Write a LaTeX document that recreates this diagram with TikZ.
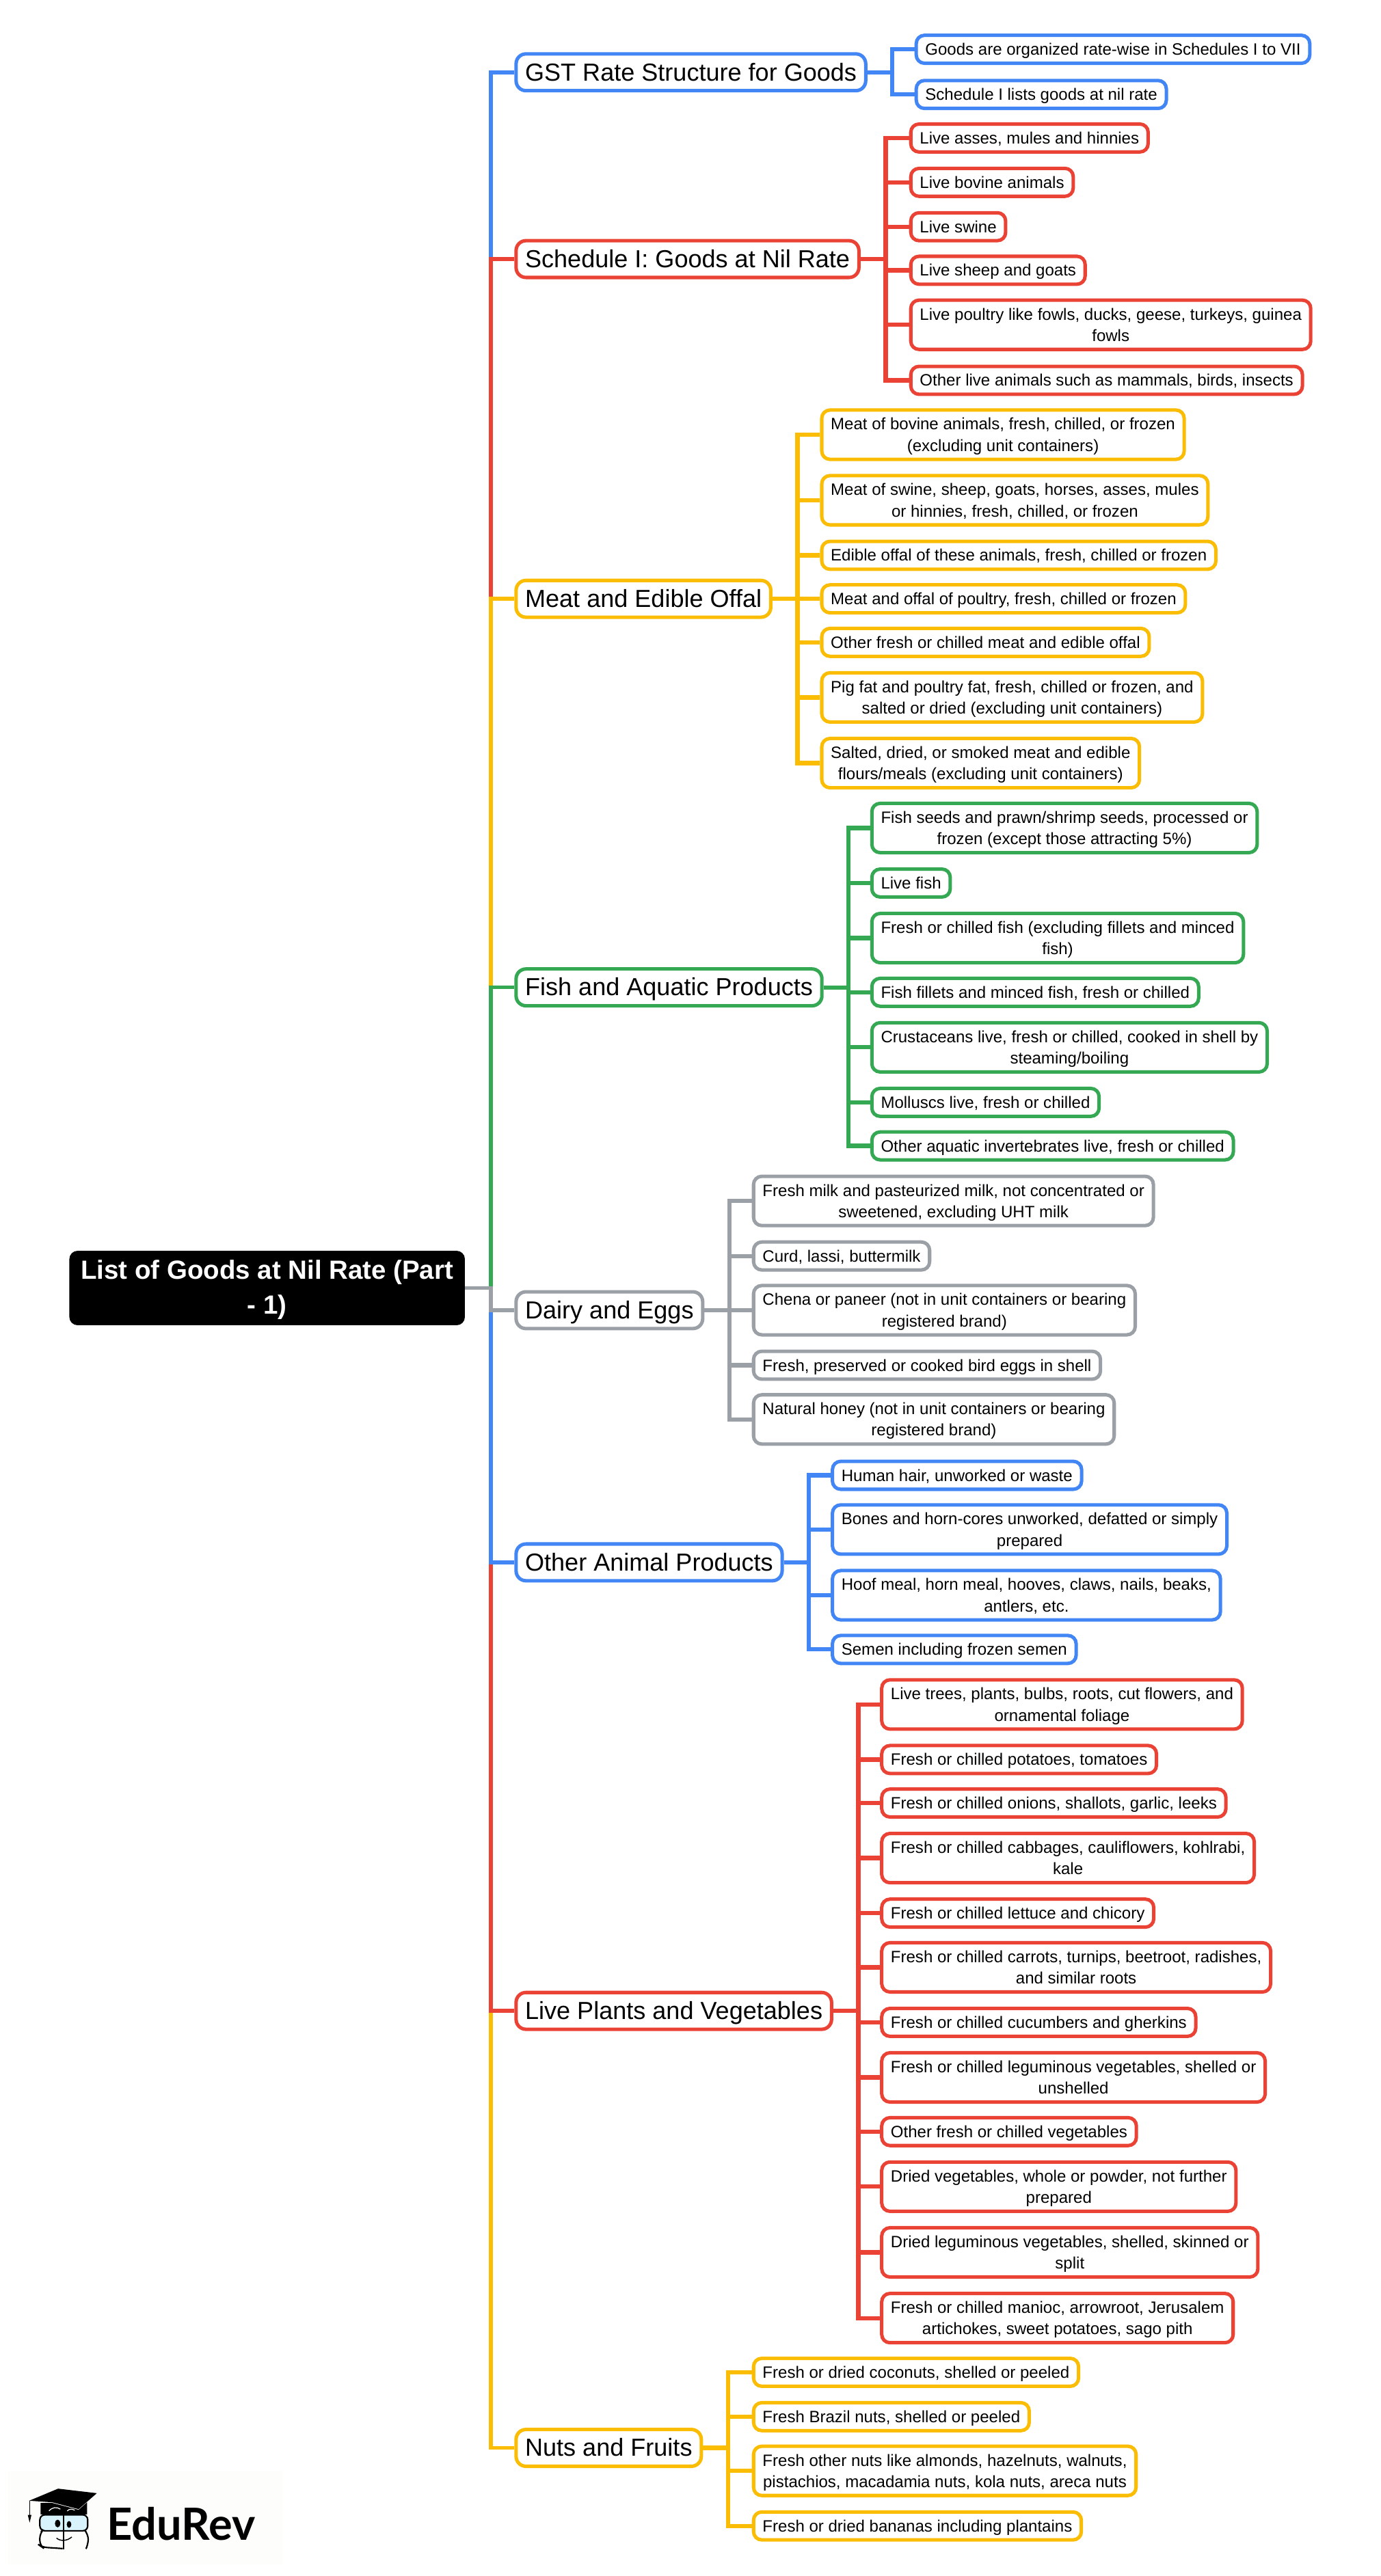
\documentclass[tikz,border=0pt]{standalone}
\usepackage{fontspec}
\setmainfont{Liberation Sans}
\newfontfamily\logofont{Lato}
\usetikzlibrary{positioning}
\definecolor{brblue}{HTML}{4285F4}
\definecolor{brred}{HTML}{EA4335}
\definecolor{bryellow}{HTML}{FBBC04}
\definecolor{brgreen}{HTML}{34A853}
\definecolor{brgrey}{HTML}{9AA0A6}
\definecolor{logoback}{HTML}{FDFDFC}
\newcommand{\kidstrut}{\vrule width 0pt height 9.9pt depth 2.8pt}
\newcommand{\brstrut}{\vrule width 0pt height 14.1pt depth 3.9pt}
\newcommand{\rootstrut}{\vrule width 0pt height 17.25pt depth 7.05pt}
\newcommand{\twolines}[2]{\kidstrut #1\\#2}
\begin{document}
\begin{tikzpicture}[x=1pt,y=-1pt,
  root node/.style={rectangle,rounded corners=5pt,fill=black,text=white,anchor=west,align=center,inner xsep=7pt,inner ysep=0pt,
    font=\fontsize{16}{21}\selectfont\bfseries,execute at end node=\rootstrut},
  branch node/.style={rectangle,rounded corners=6pt,fill=white,line width=2.1pt,anchor=west,inner xsep=5.5pt,inner ysep=2.2pt,
    font=\fontsize{15}{18}\selectfont,execute at begin node=\brstrut},
  kid node/.style={rectangle,rounded corners=5pt,fill=white,line width=2.1pt,anchor=west,align=center,inner xsep=5.5pt,inner ysep=2.15pt,
    font=\fontsize{10}{13}\selectfont,execute at begin node=\kidstrut,execute at end node=\kidstrut},
  main link/.style={draw,line width=2.3pt,to path={(\tikztostart.east) -- ++(15.6,0) |- (\tikztotarget.west)}},
  kid link/.style={draw,line width=2.6pt,to path={(\tikztostart.east) -- ++(15.2,0) |- (\tikztotarget.west)}}]

 \useasboundingbox (0,0) rectangle (840,1568);

 % logo backdrop
 \fill[logoback] (5,1504) rectangle (172,1561);

 \node[root node] (root) at (42,784) {\rootstrut List of Goods at Nil Rate (Part\\- 1)};

 \node[branch node,draw=brblue] (gst) at (313,44) {GST Rate Structure for Goods};
 \node[branch node,draw=brred] (sch) at (313,157.7) {Schedule I: Goods at Nil Rate};
 \node[branch node,draw=bryellow] (meat) at (313,364.5) {Meat and Edible Offal};
 \node[branch node,draw=brgreen] (fish) at (313,601) {Fish and Aquatic Products};
 \node[branch node,draw=brgrey] (dairy) at (313,797.5) {Dairy and Eggs};
 \node[branch node,draw=brblue] (other) at (313,951) {Other Animal Products};
 \node[branch node,draw=brred] (live) at (313,1224) {Live Plants and Vegetables};
 \node[branch node,draw=bryellow] (nuts) at (313,1490) {Nuts and Fruits};

 \node[kid node,draw=brblue] (g1) at (556.5,30) {Goods are organized rate-wise in Schedules I to VII};
 \node[kid node,draw=brblue] (g2) at (556.5,57.5) {Schedule I lists goods at nil rate};

 \node[kid node,draw=brred] (s1) at (553.2,84) {Live asses, mules and hinnies};
 \node[kid node,draw=brred] (s2) at (553.2,111) {Live bovine animals};
 \node[kid node,draw=brred] (s3) at (553.2,138) {Live swine};
 \node[kid node,draw=brred] (s4) at (553.2,164.5) {Live sheep and goats};
 \node[kid node,draw=brred] (s5) at (553.2,197.7) {\twolines{Live poultry like fowls, ducks, geese, turkeys, guinea}{fowls}};
 \node[kid node,draw=brred] (s6) at (553.2,231.5) {Other live animals such as mammals, birds, insects};

 \node[kid node,draw=bryellow] (m1) at (499,264.6) {\twolines{Meat of bovine animals, fresh, chilled, or frozen}{(excluding unit containers)}};
 \node[kid node,draw=bryellow] (m2) at (499,304.5) {\twolines{Meat of swine, sheep, goats, horses, asses, mules}{or hinnies, fresh, chilled, or frozen}};
 \node[kid node,draw=bryellow] (m3) at (499,338) {Edible offal of these animals, fresh, chilled or frozen};
 \node[kid node,draw=bryellow] (m4) at (499,364.5) {Meat and offal of poultry, fresh, chilled or frozen};
 \node[kid node,draw=bryellow] (m5) at (499,391) {Other fresh or chilled meat and edible offal};
 \node[kid node,draw=bryellow] (m6) at (499,424.5) {\twolines{Pig fat and poultry fat, fresh, chilled or frozen, and}{salted or dried (excluding unit containers)}};
 \node[kid node,draw=bryellow] (m7) at (499,464.5) {\twolines{Salted, dried, or smoked meat and edible}{flours/meals (excluding unit containers)}};

 \node[kid node,draw=brgreen] (f1) at (529.5,504) {\twolines{Fish seeds and prawn/shrimp seeds, processed or}{frozen (except those attracting 5\%)}};
 \node[kid node,draw=brgreen] (f2) at (529.5,537.5) {Live fish};
 \node[kid node,draw=brgreen] (f3) at (529.5,571) {\twolines{Fresh or chilled fish (excluding fillets and minced}{fish)}};
 \node[kid node,draw=brgreen] (f4) at (529.5,604) {Fish fillets and minced fish, fresh or chilled};
 \node[kid node,draw=brgreen] (f5) at (529.5,637.5) {\twolines{Crustaceans live, fresh or chilled, cooked in shell by}{steaming/boiling}};
 \node[kid node,draw=brgreen] (f6) at (529.5,671) {Molluscs live, fresh or chilled};
 \node[kid node,draw=brgreen] (f7) at (529.5,697.5) {Other aquatic invertebrates live, fresh or chilled};

 \node[kid node,draw=brgrey] (d1) at (457.5,731) {\twolines{Fresh milk and pasteurized milk, not concentrated or}{sweetened, excluding UHT milk}};
 \node[kid node,draw=brgrey] (d2) at (457.5,764.5) {Curd, lassi, buttermilk};
 \node[kid node,draw=brgrey] (d3) at (457.5,797.5) {\twolines{Chena or paneer (not in unit containers or bearing}{registered brand)}};
 \node[kid node,draw=brgrey] (d4) at (457.5,831) {Fresh, preserved or cooked bird eggs in shell};
 \node[kid node,draw=brgrey] (d5) at (457.5,864) {\twolines{Natural honey (not in unit containers or bearing}{registered brand)}};

 \node[kid node,draw=brblue] (o1) at (505.5,898) {Human hair, unworked or waste};
 \node[kid node,draw=brblue] (o2) at (505.5,931) {\twolines{Bones and horn-cores unworked, defatted or simply}{prepared}};
 \node[kid node,draw=brblue] (o3) at (505.5,971) {\twolines{Hoof meal, horn meal, hooves, claws, nails, beaks,}{antlers, etc.}};
 \node[kid node,draw=brblue] (o4) at (505.5,1004) {Semen including frozen semen};

 \node[kid node,draw=brred] (l1) at (535.5,1037.5) {\twolines{Live trees, plants, bulbs, roots, cut flowers, and}{ornamental foliage}};
 \node[kid node,draw=brred] (l2) at (535.5,1071) {Fresh or chilled potatoes, tomatoes};
 \node[kid node,draw=brred] (l3) at (535.5,1097.5) {Fresh or chilled onions, shallots, garlic, leeks};
 \node[kid node,draw=brred] (l4) at (535.5,1131) {\twolines{Fresh or chilled cabbages, cauliflowers, kohlrabi,}{kale}};
 \node[kid node,draw=brred] (l5) at (535.5,1164.5) {Fresh or chilled lettuce and chicory};
 \node[kid node,draw=brred] (l6) at (535.5,1197.5) {\twolines{Fresh or chilled carrots, turnips, beetroot, radishes,}{and similar roots}};
 \node[kid node,draw=brred] (l7) at (535.5,1231) {Fresh or chilled cucumbers and gherkins};
 \node[kid node,draw=brred] (l8) at (535.5,1264.5) {\twolines{Fresh or chilled leguminous vegetables, shelled or}{unshelled}};
 \node[kid node,draw=brred] (l9) at (535.5,1297.5) {Other fresh or chilled vegetables};
 \node[kid node,draw=brred] (l10) at (535.5,1331) {\twolines{Dried vegetables, whole or powder, not further}{prepared}};
 \node[kid node,draw=brred] (l11) at (535.5,1371) {\twolines{Dried leguminous vegetables, shelled, skinned or}{split}};
 \node[kid node,draw=brred] (l12) at (535.5,1411) {\twolines{Fresh or chilled manioc, arrowroot, Jerusalem}{artichokes, sweet potatoes, sago pith}};

 \node[kid node,draw=bryellow] (n1) at (457.5,1444) {Fresh or dried coconuts, shelled or peeled};
 \node[kid node,draw=bryellow] (n2) at (457.5,1471) {Fresh Brazil nuts, shelled or peeled};
 \node[kid node,draw=bryellow] (n3) at (457.5,1504) {\twolines{Fresh other nuts like almonds, hazelnuts, walnuts,}{pistachios, macadamia nuts, kola nuts, areca nuts}};
 \node[kid node,draw=bryellow] (n4) at (457.5,1537.5) {Fresh or dried bananas including plantains};

 % outer branches first, so the inner ones lie on top
 \path
    (root) edge [main link,brblue] (gst)
    (root) edge [main link,brred] (sch)
    (root) edge [main link,bryellow] (meat)
    (root) edge [main link,brgreen] (fish)
    (root) edge [main link,bryellow] (nuts)
    (root) edge [main link,brred] (live)
    (root) edge [main link,brblue] (other)
    (root) edge [main link,brgrey] (dairy);

 \path[kid link,brblue]
    (gst) edge (g1)
    (gst) edge (g2);
 \path[kid link,brred]
    (sch) edge (s1)
    (sch) edge (s2)
    (sch) edge (s3)
    (sch) edge (s4)
    (sch) edge (s5)
    (sch) edge (s6);
 \path[kid link,bryellow]
    (meat) edge (m1)
    (meat) edge (m2)
    (meat) edge (m3)
    (meat) edge (m4)
    (meat) edge (m5)
    (meat) edge (m6)
    (meat) edge (m7);
 \path[kid link,brgreen]
    (fish) edge (f1)
    (fish) edge (f2)
    (fish) edge (f3)
    (fish) edge (f4)
    (fish) edge (f5)
    (fish) edge (f6)
    (fish) edge (f7);
 \path[kid link,brgrey]
    (dairy) edge (d1)
    (dairy) edge (d2)
    (dairy) edge (d3)
    (dairy) edge (d4)
    (dairy) edge (d5);
 \path[kid link,brblue]
    (other) edge (o1)
    (other) edge (o2)
    (other) edge (o3)
    (other) edge (o4);
 \path[kid link,brred]
    (live) edge (l1)
    (live) edge (l2)
    (live) edge (l3)
    (live) edge (l4)
    (live) edge (l5)
    (live) edge (l6)
    (live) edge (l7)
    (live) edge (l8)
    (live) edge (l9)
    (live) edge (l10)
    (live) edge (l11)
    (live) edge (l12);
 \path[kid link,bryellow]
    (nuts) edge (n1)
    (nuts) edge (n2)
    (nuts) edge (n3)
    (nuts) edge (n4);

 % logo
 \begin{scope}[shift={(8.32,1505.8)},x=0.13866pt,y=-0.13866pt]
  \fill (68,118) -- (195,65) -- (365,85) -- (285,155) -- (170,125) -- cycle;
  \fill (118,128) -- (170,128) -- (285,158) -- (322,125) -- (322,178) -- (118,178) -- cycle;
  \draw[line width=0.5pt] (70,118) -- (70,180);
  \fill (62,180) -- (78,180) -- (70,214) -- cycle;
  \draw[white,line width=0.5pt] (155,163) .. controls (170,145) and (190,145) .. (205,155);
  \draw[white,line width=0.5pt] (235,163) .. controls (245,153) and (255,153) .. (268,160);
  \draw[fill=cyan!15!white,line width=0.9pt,rounded corners=3pt] (115,180) rectangle (325,250);
  \draw[line width=0.9pt,rounded corners=3pt] (120,255) -- (115,260) -- (115,315) -- (125,322) -- (215,328);
  \draw[line width=0.9pt,rounded corners=3pt] (318,255) -- (327,265) -- (327,310) -- (318,328);
  \draw[line width=0.9pt] (220,170) -- (220,330);
  \fill (193,218) ellipse (12 and 17);
  \fill (243,222) ellipse (10 and 15);
  \draw[line width=0.6pt] (188,282) .. controls (205,297) and (235,295) .. (255,277);
  \node[font=\logofont\fontsize{27}{27}\selectfont\bfseries,anchor=base west,inner sep=0pt] (brand) at (408,290) {EduRev};
 \end{scope}

\end{tikzpicture}
\end{document}
